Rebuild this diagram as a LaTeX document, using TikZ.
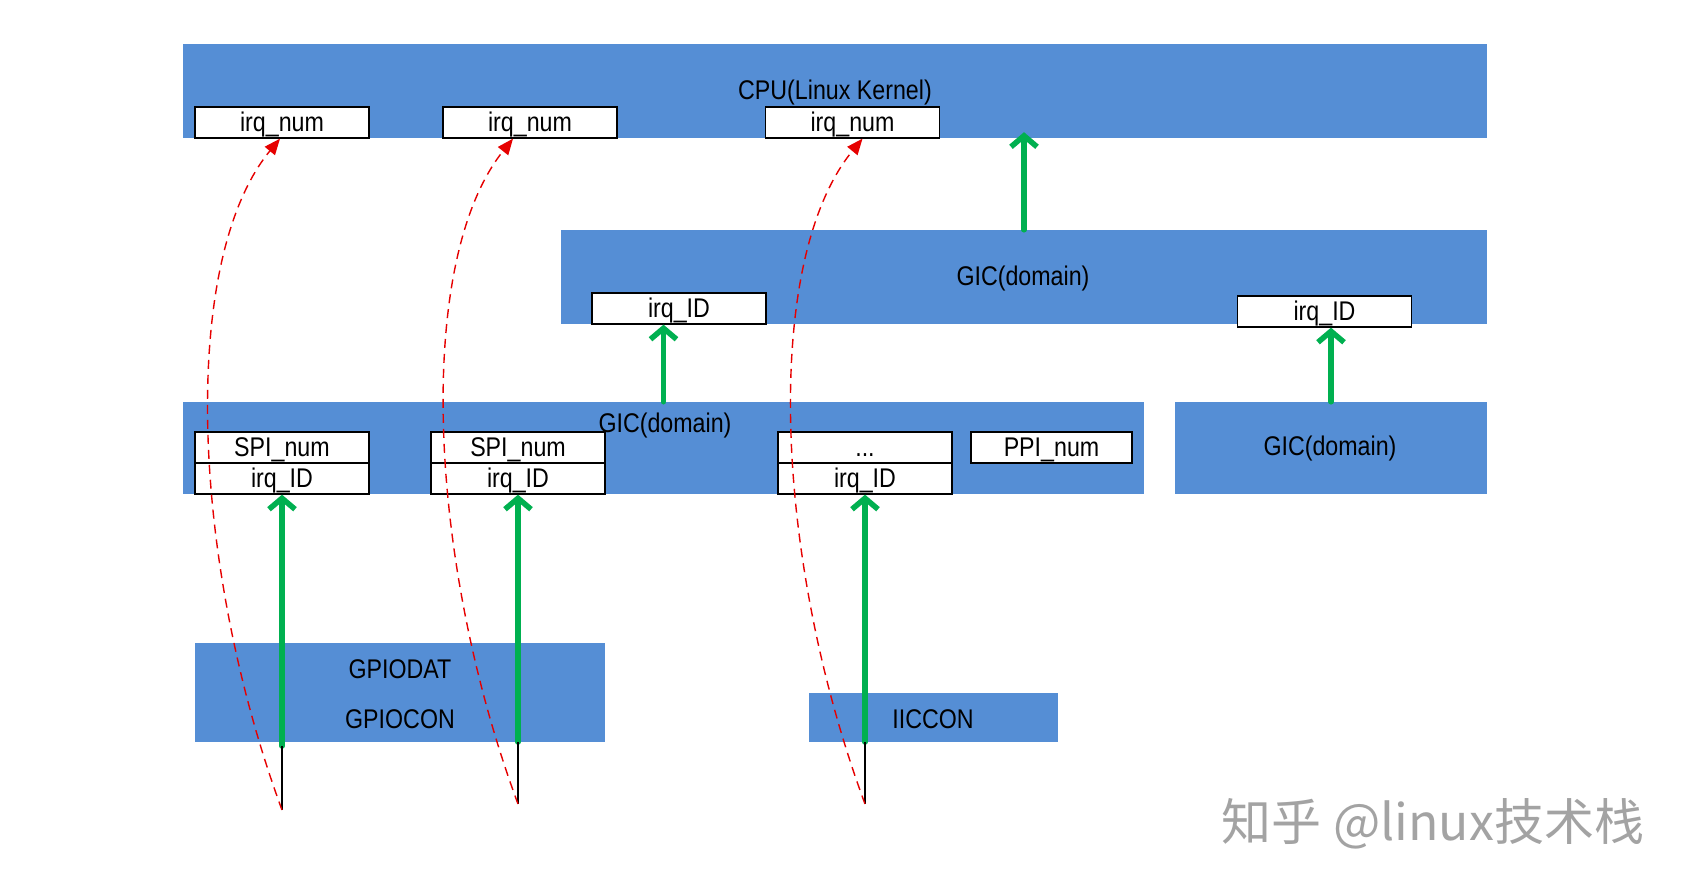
\documentclass[tikz,border=0pt]{standalone}
\usepackage{fontspec}
\setmainfont{Liberation Sans}[FakeStretch=0.86]
\newfontfamily\cjkfont{Noto Sans CJK SC}
\usetikzlibrary{arrows.meta}
\definecolor{barblue}{RGB}{85,142,213}
\definecolor{argreen}{RGB}{0,176,80}
\definecolor{dred}{RGB}{230,0,0}
\begin{document}
\begin{tikzpicture}[x=1pt,y=-1pt,
  txt/.style={font=\fontsize{27}{30}\selectfont},
  bar/.style={fill=barblue, draw=none, inner sep=0, txt},
  cell/.style={fill=white, draw=black, line width=1.3pt, minimum width=174pt, minimum height=31pt, inner sep=0, text height=24pt, text depth=6pt, txt},
  lbl/.style={inner sep=0, txt},
  garrow/.style={draw=argreen, line width=5.5pt, line cap=round, -{Straight Barb[length=11pt,width=26pt]}},
  rarrow/.style={draw=dred, line width=1.4pt, dash pattern=on 9pt off 6pt, -{Triangle[length=16pt,width=13pt]}},
  wire/.style={draw=black, line width=1.2pt}
]
\useasboundingbox[fill=white] (0,0) rectangle (1689,893);

% bars
\node[bar, minimum width=1304pt, minimum height=94pt] (cpu) at (835,91) {};
\node[lbl] (cpul) at (835,93) {CPU(Linux Kernel)};
\node[bar, minimum width=926pt, minimum height=94pt] (gicA) at (1024,277) {};
\node[lbl] (gicAl) at (1023,279) {GIC(domain)};
\node[bar, minimum width=961pt, minimum height=92pt] (gicB) at (663.5,448) {};
\node[lbl] (gicBl) at (665,426) {GIC(domain)};
\node[bar, minimum width=312pt, minimum height=92pt] (gicC) at (1331,448) {};
\node[lbl] (gicCl) at (1330,449) {GIC(domain)};
\node[bar, minimum width=410pt, minimum height=99pt] (gpio) at (400,692.5) {};
\node[lbl] (gpiodat) at (400,669) {GPIODAT};
\node[lbl] (gpiocon) at (400,719) {GPIOCON};
\node[bar, minimum width=249pt, minimum height=49pt] (iic) at (933.5,717.5) {};
\node[lbl] (iicl) at (933,719) {IICCON};

% cells
\node[cell] (n1) at (282,122.5) {irq\_num};
\node[cell] (n2) at (530,122.5) {irq\_num};
\node[cell] (n3) at (852.5,122.5) {irq\_num};
\node[cell] (idA) at (679,308.5) {irq\_ID};
\node[cell] (idB) at (1324.5,311.5) {irq\_ID};
\node[cell] (s1) at (282,447.5) {SPI\_num};
\node[cell] (id1) at (282,478.5) {irq\_ID};
\node[cell] (s2) at (518,447.5) {SPI\_num};
\node[cell] (id2) at (518,478.5) {irq\_ID};
\node[cell] (s3) at (865,447.5) {...};
\node[cell] (id3) at (865,478.5) {irq\_ID};
\node[cell, minimum width=161pt] (ppi) at (1051.5,447.5) {PPI\_num};

% green arrows
\draw[garrow] (gicA.north) -- ([yshift=6pt]cpu.south -| gicA.north);
\draw[garrow] (gicB.north) -- (gicB.north |- idA.south);
\draw[garrow] (gicC.north) -- (gicC.north |- idB.south);

\coordinate (g1) at (282,746);
\coordinate (g2) at (518,742);
\coordinate (g3) at (865,742);
\coordinate (b1) at (282,810);
\coordinate (b2) at (518,804);
\coordinate (b3) at (865,804);

\draw[garrow] (g1) -- (id1.south);
\draw[garrow] (g2) -- (id2.south);
\draw[garrow] (g3) -- (id3.south);

\draw[wire] (b1) -- (g1);
\draw[wire] (b2) -- (g2);
\draw[wire] (b3) -- (g3);

% red dashed curves
\draw[rarrow] (b1) .. controls (190,560) and (180,260) .. ([xshift=-2pt]n1.south);
\draw[rarrow] (b2) .. controls (426,555) and (416,260) .. ([xshift=-17pt]n2.south);
\draw[rarrow] (b3) .. controls (773,555) and (763,260) .. ([xshift=10pt]n3.south);

% watermark
\node[inner sep=0, text=black!36, font=\cjkfont\fontsize{50}{54}\selectfont] (wm) at (1433,824) {知乎 @linux技术栈};
\end{tikzpicture}
\end{document}
